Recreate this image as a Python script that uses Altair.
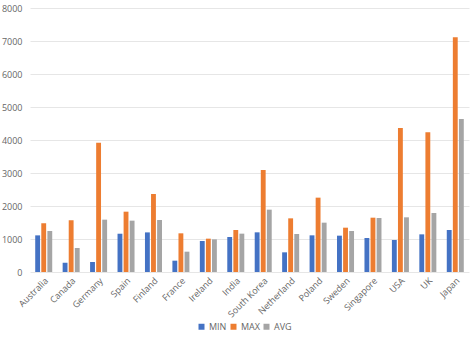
import altair as alt
import pandas as pd

countries = ["Australia", "Canada", "Germany", "Spain", "Finland", "France", "Ireland", "India",
             "South Korea", "Netherland", "Poland", "Sweden", "Singapore", "USA", "UK", "Japan"]
min_vals = [1110, 283, 303, 1160, 1200, 343, 939, 1061, 1202, 596, 1111, 1101, 1030, 970, 1141, 1273]
max_vals = [1475, 1566, 3919, 1828, 2364, 1172, 1010, 1273, 3091, 1626, 2253, 1343, 1646, 4364, 4232, 7111]
avg_vals = [1242, 727, 1586, 1556, 1576, 616, 990, 1162, 1889, 1152, 1495, 1242, 1636, 1657, 1788, 4636]
series = ["MIN", "MAX", "AVG"]
colors = ["#4472C4", "#ED7D31", "#A5A5A5"]

rows = []
for i, c in enumerate(countries):
    for s, vals in zip(series, [min_vals, max_vals, avg_vals]):
        rows.append({"country": c, "series": s, "value": vals[i]})
df = pd.DataFrame(rows)

font = "Open Sans"
chart = alt.Chart(df).mark_bar().encode(
    x=alt.X("country:N", sort=countries, title=None,
            scale=alt.Scale(paddingInner=0.38, paddingOuter=0.19),
            axis=alt.Axis(labelAngle=-45, labelAlign="right", labelBaseline="top",
                          labelFontSize=9, labelColor="#666666", labelFont=font,
                          ticks=False, domain=False, labelPadding=4)),
    xOffset=alt.XOffset("series:N", sort=series, scale=alt.Scale(paddingInner=0.2)),
    y=alt.Y("value:Q", title=None,
            scale=alt.Scale(domain=[0, 8000]),
            axis=alt.Axis(values=list(range(0, 8001, 1000)), format="d", labelFontSize=9,
                          labelColor="#666666", labelFont=font, ticks=False, domain=False,
                          labelPadding=8, gridColor="#E6E6E6", gridWidth=1)),
    color=alt.Color("series:N", sort=series, title=None,
                    scale=alt.Scale(domain=series, range=colors),
                    legend=alt.Legend(orient="none", direction="horizontal", legendX=167, legendY=314,
                                      symbolType="square", symbolSize=36, symbolStrokeWidth=0,
                                      labelFontSize=9, labelColor="#666666", labelFont=font,
                                      labelOffset=3, columnPadding=2)),
).properties(
    width=439, height=264,
    autosize=alt.AutoSizeParams(type="none"),
    padding={"left": 30, "top": 8, "right": 5, "bottom": 65},
).configure_view(stroke=None)

chart.save("out.html", embed_options={"renderer": "svg", "actions": False})
